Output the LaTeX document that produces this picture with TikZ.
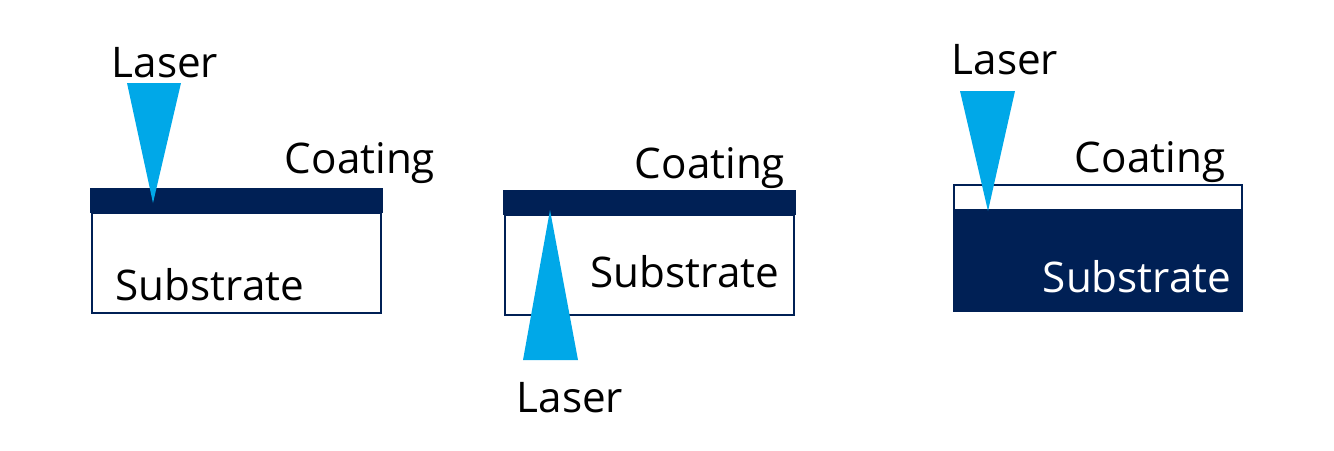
\documentclass[tikz,border=0pt]{standalone}
\usepackage{fontspec}
\setmainfont{Open Sans}
\usetikzlibrary{positioning}
\definecolor{navy}{HTML}{002055}
\definecolor{beam}{HTML}{00A8E8}
\tikzset{lbl/.style={font=\fontsize{12pt}{14pt}\selectfont,inner sep=0pt}}
\begin{document}
\begin{tikzpicture}[x=0.01cm,y=-0.01cm]
 \useasboundingbox (0,0) rectangle (1334,450);
 % panel 1
 \draw[navy,thick](92,213) rectangle (381,313);
 \fill[navy](90,188) rectangle (383,213);
 \fill[beam](127,83)--(181,83)--(153,203)--cycle;
 \node[lbl] (laserA) at (165,63) {Laser};
 \node[lbl] (coatA) at (360,163) {Coating};
 \node[lbl] (subA) at (210,285) {Substrate};
 % panel 2
 \draw[navy,thick](505,215) rectangle (794,315);
 \fill[navy](503,190) rectangle (796,215);
 \fill[beam](523,360)--(578,360)--(550,210)--cycle;
 \node[lbl] (laserB) at (570,398) {Laser};
 \node[lbl] (coatB) at (710,168) {Coating};
 \node[lbl] (subB) at (685,272) {Substrate};
 % panel 3
 \fill[navy](953,210) rectangle (1243,312);
 \draw[navy,thick](954,185) rectangle (1242,210);
 \fill[beam](960,91)--(1015,91)--(988,211)--cycle;
 \node[lbl] (laserC) at (1005,60) {Laser};
 \node[lbl] (coatC) at (1150,162) {Coating};
 \node[lbl,white] (subC) at (1137,277) {Substrate};
\end{tikzpicture}
\end{document}
